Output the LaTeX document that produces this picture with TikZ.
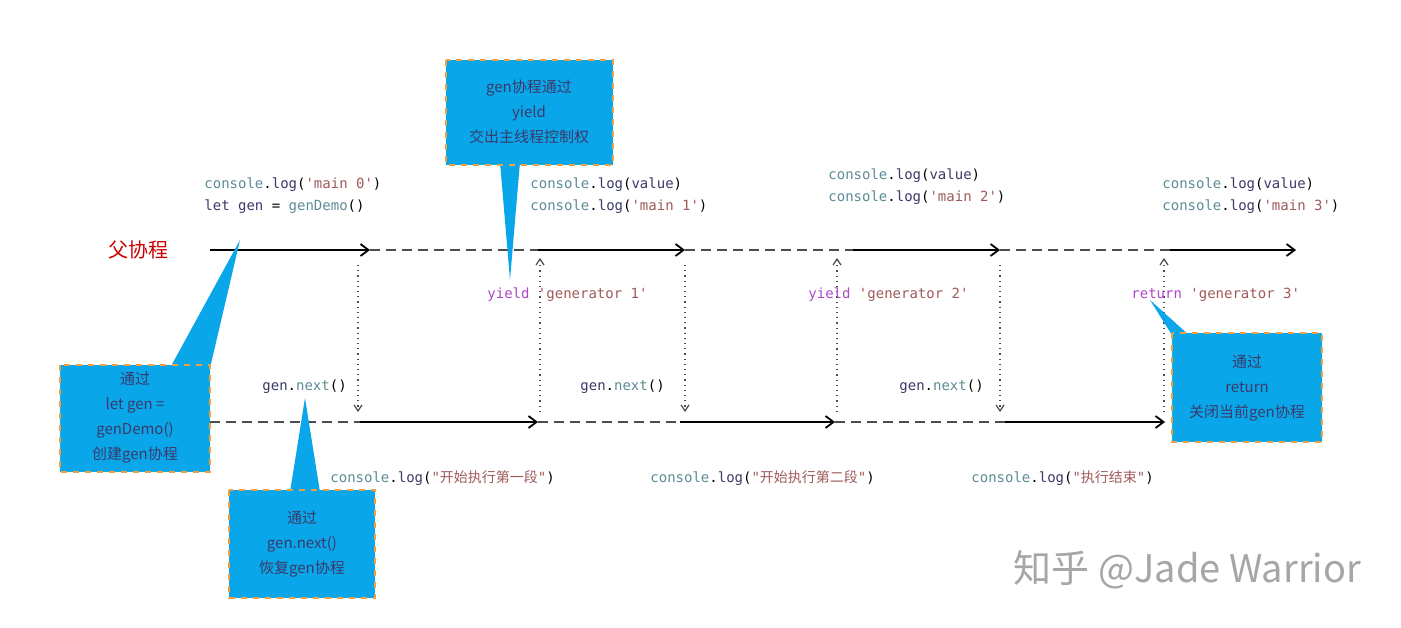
\documentclass[tikz,border=0pt]{standalone}
\usepackage{fontspec}
\setmainfont{Noto Sans CJK SC}
\setmonofont{DejaVu Sans Mono}
\newfontfamily\cjk{Noto Sans CJK SC}
\usetikzlibrary{arrows.meta}
\definecolor{cteal}{HTML}{5C8C94}
\definecolor{cnavy}{HTML}{3A3A6A}
\definecolor{cstr}{HTML}{A05A5A}
\definecolor{ckw}{HTML}{B048C8}
\definecolor{boxblue}{HTML}{0AA6EA}
\definecolor{boxedge}{HTML}{F0A040}
\newcommand{\cl}{\textcolor{cteal}{console}.\textcolor{cnavy}{log}}
\begin{document}
\begin{tikzpicture}[x=0.5pt,y=-0.5pt,
  code/.style={font=\fontsize{7}{11}\selectfont\ttfamily,anchor=west,align=left,inner sep=0},
  seg/.style={line width=0.9pt,-{Straight Barb[length=4pt,width=6pt]}},
  gap/.style={line width=0.7pt,dashed,dash pattern=on 5pt off 3pt,black!70},
  vdot/.style={line width=0.6pt,dotted,black!70,-{Straight Barb[length=3pt,width=4pt]}},
  callout/.style={fill=boxblue,draw=boxedge,dashed,line width=0.6pt},
  btxt/.style={font=\fontsize{7.5}{12.5}\selectfont,text=cnavy,align=center}]
\useasboundingbox (0,0) rectangle (1401,627);
\fill[white] (0,0) rectangle (1401,627);
% coordinates top
\foreach \n/\x in {a0/210,a1/370,a2/538,a3/685,a4/853,a5/1000,a6/1170,a7/1296}
  \coordinate (\n) at (\x,250);
\foreach \n/\x in {b0/210,b1/360,b2/538,b3/680,b4/835,b5/1005,b6/1165}
  \coordinate (\n) at (\x,422);
\draw[seg] (a0)--(a1); \draw[gap] (a1)--(a2); \draw[seg] (a2)--(a3); \draw[gap] (a3)--(a4);
\draw[seg] (a4)--(a5); \draw[gap] (a5)--(a6); \draw[seg] (a6)--(a7);
\draw[gap] (b0)--(b1); \draw[seg] (b1)--(b2); \draw[gap] (b2)--(b3); \draw[seg] (b3)--(b4);
\draw[gap] (b4)--(b5); \draw[seg] (b5)--(b6);
% vertical dotted
\draw[vdot] (358,265)--(358,412);
\draw[vdot] (540,412)--(540,258);
\draw[vdot] (685,265)--(685,412);
\draw[vdot] (837,412)--(837,258);
\draw[vdot] (1000,265)--(1000,412);
\draw[vdot] (1164,412)--(1164,258);
% labels
\node[text=red!80!black,font=\fontsize{10}{12}\selectfont] (parent) at (138,250) {父协程};
\node[code] (c0) at (204,196) {\cl(\textcolor{cstr}{'main 0'})\\\textcolor{cnavy}{let gen} = \textcolor{cteal}{genDemo}()};
\node[code] (c1) at (530,196) {\cl(\textcolor{cnavy}{value})\\\cl(\textcolor{cstr}{'main 1'})};
\node[code] (c2) at (828,187) {\cl(\textcolor{cnavy}{value})\\\cl(\textcolor{cstr}{'main 2'})};
\node[code] (c3) at (1162,196) {\cl(\textcolor{cnavy}{value})\\\cl(\textcolor{cstr}{'main 3'})};
\node[code] (y1) at (487,295) {\textcolor{ckw}{yield} \textcolor{cstr}{'generator 1'}};
\node[code] (y2) at (808,295) {\textcolor{ckw}{yield} \textcolor{cstr}{'generator 2'}};
\node[code] (y3) at (1131,295) {\textcolor{ckw}{return} \textcolor{cstr}{'generator 3'}};
\node[code] (n1) at (262,387) {\textcolor{cnavy}{gen}.\textcolor{cteal}{next}()};
\node[code] (n2) at (580,387) {\textcolor{cnavy}{gen}.\textcolor{cteal}{next}()};
\node[code] (n3) at (899,387) {\textcolor{cnavy}{gen}.\textcolor{cteal}{next}()};
\node[code] (s1) at (330,478) {\cl(\textcolor{cstr}{"{\cjk 开始执行第一段}"})};
\node[code] (s2) at (650,478) {\cl(\textcolor{cstr}{"{\cjk 开始执行第二段}"})};
\node[code] (s3) at (971,478) {\cl(\textcolor{cstr}{"{\cjk 执行结束}"})};
% callouts
\fill[boxblue] (170,368)--(240,240)--(210,368)--cycle;
\draw[callout] (60,365) rectangle (210,472);
\node[btxt] (t1) at (135,418) {通过\\let gen =\\genDemo()\\创建gen协程};
\fill[boxblue] (290,492)--(305,398)--(320,492)--cycle;
\draw[callout] (229,490) rectangle (375,598);
\node[btxt] (t2) at (302,544) {通过\\gen.next()\\恢复gen协程};
\fill[boxblue] (500,162)--(510,280)--(520,162)--cycle;
\draw[callout] (446,60) rectangle (613,165);
\node[btxt] (t3) at (529,112) {gen协程通过\\yield\\交出主线程控制权};
\fill[boxblue] (1175,340)--(1150,300)--(1190,336)--cycle;
\draw[callout] (1172,333) rectangle (1322,442);
\node[btxt] (t4) at (1247,388) {通过\\return\\关闭当前gen协程};
% watermark
\node[text=black!35,font=\fontsize{19}{22}\selectfont,anchor=east] (wm) at (1368,570) {知乎 @Jade Warrior};
\end{tikzpicture}
\end{document}
